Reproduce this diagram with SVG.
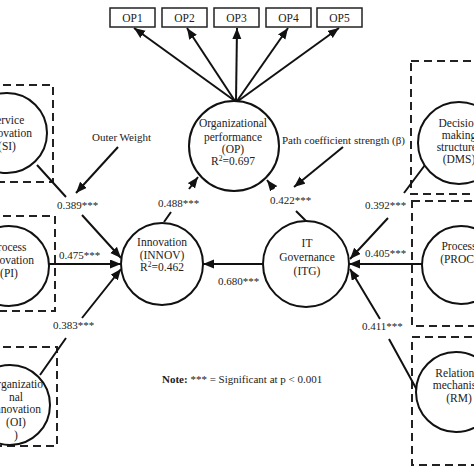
<svg xmlns="http://www.w3.org/2000/svg" width="474" height="474" viewBox="0 0 474 474">
<style>
text{font-family:"Liberation Serif","Times New Roman",serif;fill:#222;}
.n{font-size:11.5px;text-anchor:middle;}
.l{font-size:11px;}
.c{fill:#fff;stroke:#111;stroke-width:2;}
.b{fill:#fff;stroke:#222;stroke-width:1.5;}
.d{fill:none;stroke:#222;stroke-width:2;stroke-dasharray:8 5;}
.a{fill:none;stroke:#111;stroke-width:2;marker-end:url(#ah);}
</style>
<defs>
<marker id="ah" markerUnits="userSpaceOnUse" markerWidth="12" markerHeight="10" refX="11" refY="4.5" orient="auto">
<path d="M0,0 L11,4.5 L0,9 z" fill="#111"/>
</marker>
</defs>
<rect width="474" height="474" fill="#fff"/>

<g id="dashed-boxes">
<rect class="d" x="-10" y="85" width="63" height="97"/>
<rect class="d" x="-10" y="216" width="65" height="95"/>
<rect class="d" x="-10" y="347" width="67" height="99"/>
<rect class="d" x="411" y="61" width="80" height="133"/>
<rect class="d" x="412" y="201" width="80" height="125"/>
<rect class="d" x="412" y="337" width="80" height="128"/>
</g>

<g id="connectors">
<path class="a" d="M235,101 L134,28"/>
<path class="a" d="M235,101 L187,28"/>
<path class="a" d="M236,101 L237,28"/>
<path class="a" d="M237,101 L288,28"/>
<path class="a" d="M238,101 L339,28"/>
<path class="a" d="M37,165 L66,197 M82,215 L121,258"/>
<path class="a" d="M49,264 L121,264"/>
<path class="a" d="M40,375 L66,338 M82,318 L121,269"/>
<path class="a" d="M263,264 L203,264"/>
<path class="a" d="M164,222 L171,212 M189,189 L198,177"/>
<path class="a" d="M307,222 L296,211 M274,189 L267,180"/>
<path class="a" d="M425,165 L404,193 M388,218 L350,259"/>
<path class="a" d="M422,264 L349,264"/>
<path class="a" d="M417,390 L389,339 M380,319 L350,269"/>
<path class="a" d="M118,147 L76,193"/>
<path class="a" d="M343,147 L294,187"/>
</g>

<g id="OP1"><rect class="b" x="110" y="8" width="45" height="19"/><text class="n" x="132.5" y="22">OP1</text></g>
<g id="OP2"><rect class="b" x="162" y="8" width="45" height="19"/><text class="n" x="184.5" y="22">OP2</text></g>
<g id="OP3"><rect class="b" x="214" y="8" width="45" height="19"/><text class="n" x="236.5" y="22">OP3</text></g>
<g id="OP4"><rect class="b" x="266" y="8" width="45" height="19"/><text class="n" x="288.5" y="22">OP4</text></g>
<g id="OP5"><rect class="b" x="317" y="8" width="45" height="19"/><text class="n" x="339.5" y="22">OP5</text></g>

<g id="OP">
<circle class="c" cx="234" cy="146" r="45"/>
<text class="n" x="233" y="127">Organizational</text>
<text class="n" x="233" y="141">performance</text>
<text class="n" x="233" y="153">(OP)</text>
<text class="n" x="233" y="165">R<tspan font-size="7.5" dy="-4">2</tspan><tspan dy="4">=0.697</tspan></text>
</g>

<g id="INNOV">
<circle class="c" cx="162" cy="264" r="41"/>
<text class="n" x="162" y="246">Innovation</text>
<text class="n" x="162" y="259">(INNOV)</text>
<text class="n" x="162" y="271">R<tspan font-size="7.5" dy="-4">2</tspan><tspan dy="4">=0.462</tspan></text>
</g>

<g id="ITG">
<circle class="c" cx="306" cy="264" r="43"/>
<text class="n" x="307" y="247">IT</text>
<text class="n" x="307" y="261">Governance</text>
<text class="n" x="307" y="275">(ITG)</text>
</g>

<g id="SI">
<circle class="c" cx="7" cy="133" r="40"/>
<text class="n" x="7" y="124">Service</text>
<text class="n" x="7" y="137">Innovation</text>
<text class="n" x="7" y="150">(SI)</text>
</g>

<g id="PI">
<circle class="c" cx="9" cy="266" r="40"/>
<text class="n" x="9" y="251">Process</text>
<text class="n" x="9" y="264">Innovation</text>
<text class="n" x="9" y="277">(PI)</text>
</g>

<g id="OI">
<circle class="c" cx="10" cy="405" r="40"/>
<text class="n" x="16" y="388">Organizatio</text>
<text class="n" x="16" y="401">nal</text>
<text class="n" x="16" y="413">Innovation</text>
<text class="n" x="16" y="426">(OI)</text>
<text class="n" x="16" y="439">)</text>
</g>

<g id="DMS">
<circle class="c" cx="459" cy="143" r="41"/>
<text class="n" x="459" y="127">Decision</text>
<text class="n" x="459" y="139">making</text>
<text class="n" x="459" y="151">structures</text>
<text class="n" x="459" y="163">(DMS)</text>
</g>

<g id="PROC">
<circle class="c" cx="461" cy="265" r="39"/>
<text class="n" x="459" y="250">Process</text>
<text class="n" x="459" y="263">(PROC)</text>
</g>

<g id="RM">
<circle class="c" cx="456" cy="392" r="40"/>
<text class="n" x="459" y="377">Relational</text>
<text class="n" x="459" y="389">mechanism</text>
<text class="n" x="459" y="402">(RM)</text>
</g>

<g id="labels">
<text class="l" x="92" y="141">Outer Weight</text>
<text class="l" x="282" y="144">Path coefficient strength (β)</text>
<text class="l" x="57" y="209">0.389***</text>
<text class="l" x="59" y="259">0.475***</text>
<text class="l" x="53" y="329">0.383***</text>
<text class="l" x="158" y="207">0.488***</text>
<text class="l" x="270" y="204">0.422***</text>
<text class="l" x="218" y="285">0.680***</text>
<text class="l" x="365" y="209">0.392***</text>
<text class="l" x="365" y="257">0.405***</text>
<text class="l" x="362" y="330">0.411***</text>
<text class="l" x="162" y="383"><tspan font-weight="bold">Note:</tspan> *** = Significant at p &lt; 0.001</text>
</g>
</svg>
